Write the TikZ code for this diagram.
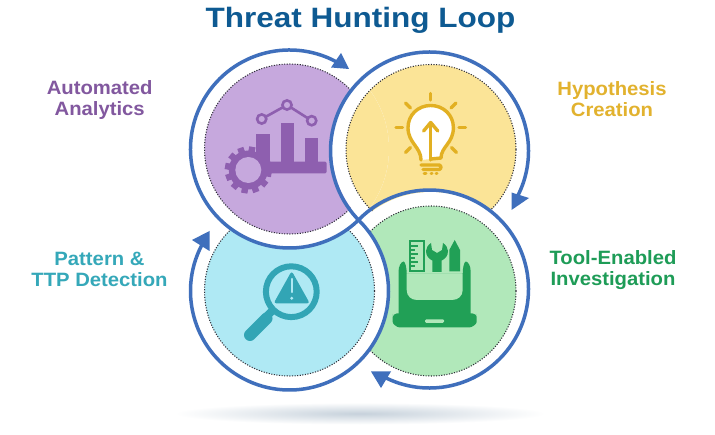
\documentclass[tikz,border=0pt]{standalone}
\usepackage{fontspec}
\usetikzlibrary{calc}
\setmainfont{Liberation Sans}
\newfontfamily\wideA[FakeStretch=1.125]{Liberation Sans}
\newfontfamily\wideB[FakeStretch=1.05]{Liberation Sans}
\definecolor{ringc}{HTML}{3F6FBC}
\definecolor{purF}{HTML}{C6A8DD}\definecolor{purI}{HTML}{8E5FAF}\definecolor{purT}{HTML}{82589F}
\definecolor{yelF}{HTML}{FBE497}\definecolor{yelI}{HTML}{E2B022}\definecolor{yelT}{HTML}{E2B22E}
\definecolor{grnF}{HTML}{B1E8BA}\definecolor{grnI}{HTML}{21A056}\definecolor{grnT}{HTML}{1E9C57}
\definecolor{cyaF}{HTML}{AFE9F4}\definecolor{cyaI}{HTML}{32A5B5}\definecolor{cyaT}{HTML}{35A8B9}
\definecolor{titleC}{HTML}{0E5A92}
\definecolor{dotc}{HTML}{2E2E38}
\definecolor{shadowc}{HTML}{C6D1DB}
\tikzset{
  x=1pt,y=1pt,
  ring/.style={draw=ringc,line width=3.5pt},
  head/.style={fill=ringc},
  disc/.style={draw=dotc,line width=1.05pt,dash pattern=on 1.1pt off 1.5pt},
  lab/.style={font=\wideB\fontsize{19.3}{21}\selectfont\bfseries,align=center,inner sep=0pt},
  px/.style={shift={(0,434)},yscale=-1},
  pline/.style={draw=purI,line width=2.6pt,fill=purF},
  ray/.style={draw=yelI,line width=3.2pt,line cap=round},
  bulb/.style={draw=yelI,line width=3.4pt,line cap=round,line join=round},
}
\begin{document}
\begin{tikzpicture}
\useasboundingbox (0,0) rectangle (715,434);
\fill[white] (0,0) rectangle (715,434);
\coordinate (P) at (289.5,285);
\coordinate (Y) at (431,284.5);
\coordinate (G) at (431,143);
\coordinate (C) at (289.5,143);
% shadow
\shade[inner color=shadowc,outer color=white] (360,20.5) ellipse [x radius=185,y radius=11];
% discs, each cut by the next ring
\fill[disc,fill=yelF] (Y) circle [radius=85];
\fill[white] (G) circle [radius=99];
\fill[disc,fill=grnF] (G) circle [radius=85];
\fill[white] (C) circle [radius=99];
\fill[disc,fill=cyaF] (C) circle [radius=85];
\fill[white] (P) circle [radius=99];
\fill[disc,fill=purF] (P) circle [radius=85];
\begin{scope}
  \clip (P) circle [radius=99.5];
  \fill[white] (Y) circle [radius=99];
  \fill[disc,fill=yelF] (Y) circle [radius=85];
\end{scope}
% rings
\draw[ring] ($(P)+(62:99)$) arc [start angle=62,end angle=315,radius=99]
            arc [start angle=135,end angle=-117,radius=99];
\draw[ring] ($(C)+(152.5:99)$) arc [start angle=152.5,end angle=405,radius=99]
            arc [start angle=225,end angle=-27,radius=99];
\begin{scope}[px]
% arrowheads
\fill[head] (349,69) -- (341,53) -- (331,67.5) -- cycle;
\fill[head] (511.5,210) -- (529,198) -- (511.5,192.5) -- cycle;
\fill[head] (371,371.5) -- (391,371.5) -- (381,388) -- cycle;
\fill[head] (209.5,231) -- (192,240) -- (209.5,251) -- cycle;
% purple icon
\fill[purI] (256,134) rectangle (270,170);
\fill[purI] (280.7,123.3) rectangle (294.3,170);
\fill[purI] (305,138.3) rectangle (318.3,170);
\fill[purI,rounded corners=1.5pt] (262,161.7) rectangle (326.7,173.3);
\foreach \a in {0,30,...,330}
  \fill[purI,shift={(248.3,170)},rotate=\a+10] (-3.2,-23.5) rectangle (3.2,-14);
\fill[purI] (248.3,170) circle [radius=19.5];
\fill[purF] (248.3,170) circle [radius=13];
\draw[purI,line width=2.6pt] (261.7,119) -- (287,105) -- (311.7,120.7);
\draw[pline] (261.7,119) circle [radius=4.6];
\draw[pline] (287,105) circle [radius=4.6];
\draw[pline] (311.7,120.7) circle [radius=4.6];
% bulb icon
\draw[ray] (430.7,93.5) -- (430.7,100);
\draw[ray] (405.5,103) -- (410.5,108);
\draw[ray] (456,103) -- (451,108);
\draw[ray] (396,127.7) -- (402.5,127.7);
\draw[ray] (459,127.7) -- (465.5,127.7);
\draw[ray] (405.5,152.5) -- (410.5,147.5);
\draw[ray] (456.5,152.5) -- (451.5,147.5);
\draw[bulb,fill=white] (421,160) .. controls (421,147) and (408,143) .. (408,127.7)
  .. controls (408,115) and (418,105.5) .. (430.7,105.5)
  .. controls (443.4,105.5) and (453.4,115) .. (453.4,127.7)
  .. controls (453.4,143) and (441,147) .. (441,158) -- (431,159);
\draw[bulb] (430.7,160) -- (430.7,123);
\draw[bulb] (423.6,131) -- (430.7,122.5) -- (437.8,131);
\draw[bulb] (421,165) -- (439,165) .. controls (441.5,165) and (441.5,169.5) .. (439,169.5) -- (423,169.5);
\draw[bulb,line width=3pt] (424,174) -- (426,174);
\draw[bulb,line width=3pt] (431,174) -- (432,174);
\draw[bulb,line width=3pt] (436,174) -- (437,174);
% toolkit icon
\draw[grnI,line width=1.6pt,fill=grnF] (410,241) rectangle (424,271);
\draw[grnI,line width=1.2pt] (410,246) -- (418,246) (410,250) -- (415,250) (410,254) -- (418,254) (410,258) -- (415,258) (410,262) -- (418,262) (410,266) -- (415,266);
\fill[grnI] (431,243) .. controls (428,245) and (426,248) .. (426,251) .. controls (426,256) and (429,259) .. (432.3,260.5)
  -- (432.3,272) -- (441.7,272) -- (441.7,260.5) .. controls (445,259) and (448,256) .. (448,251)
  .. controls (448,248) and (446,245) .. (443,243) -- (442,250) -- (437,253) -- (432,250) -- cycle;
\fill[grnI] (449.3,271.5) -- (449.3,250) -- (454.7,240) -- (460,250) -- (460,271.5) -- cycle;
\fill[grnI] (398.5,320) -- (398.5,272) .. controls (398.5,266) and (401,262) .. (403.5,261.5)
  .. controls (405.5,262) and (406.7,268) .. (406.7,274) -- (462.7,274)
  .. controls (462.7,268) and (463.9,262) .. (465.9,261.5) .. controls (468.4,262) and (470.7,266) .. (470.7,272) -- (470.7,320) -- cycle;
\fill[grnI,rounded corners=4pt] (392.7,313.5) -- (476.7,313.5) -- (476.7,318) .. controls (476.7,324) and (472,327.3) .. (466,327.3) -- (403,327.3) .. controls (397,327.3) and (392.7,324) .. (392.7,318) -- cycle;
\fill[grnF] (406.7,274) -- (462.7,274) -- (462.7,290) .. controls (462.7,296) and (458,300) .. (452,300) -- (417,300) .. controls (411,300) and (406.7,296) .. (406.7,290) -- cycle;
\fill[grnF,rounded corners=1.2pt] (425,319.3) rectangle (444,322.8);
% magnifier icon
\draw[cyaI,line width=6pt] (291.3,291.7) circle [radius=25.4];
\draw[cyaI,line width=8pt] (273,310) -- (264,319);
\draw[cyaI,line width=12pt,line cap=round] (266.5,318.5) -- (250,335);
\fill[cyaI,rounded corners=2.8pt] (291.7,271) -- (309.8,303.4) -- (273.6,303.4) -- cycle;
\draw[cyaF,line width=2.2pt,line cap=round] (291.7,279) -- (291.7,292);
\fill[cyaF] (291.7,298.3) circle [radius=1.6];
\end{scope}
% texts
\node[font=\wideA\fontsize{28}{30}\selectfont\bfseries,text=titleC,inner sep=0pt] (title) at (360.5,414) {Threat Hunting Loop};
\node[lab,text=purT] (autoL) at (99.7,333.5) {Automated\\Analytics};
\node[lab,text=yelT] (hypoL) at (612,335) {Hypothesis\\Creation};
\node[lab,text=grnT] (toolL) at (613,164) {Tool-Enabled\\Investigation};
\node[lab,text=cyaT] (pattL) at (99.5,165) {Pattern \&\\TTP Detection};
\end{tikzpicture}
\end{document}
